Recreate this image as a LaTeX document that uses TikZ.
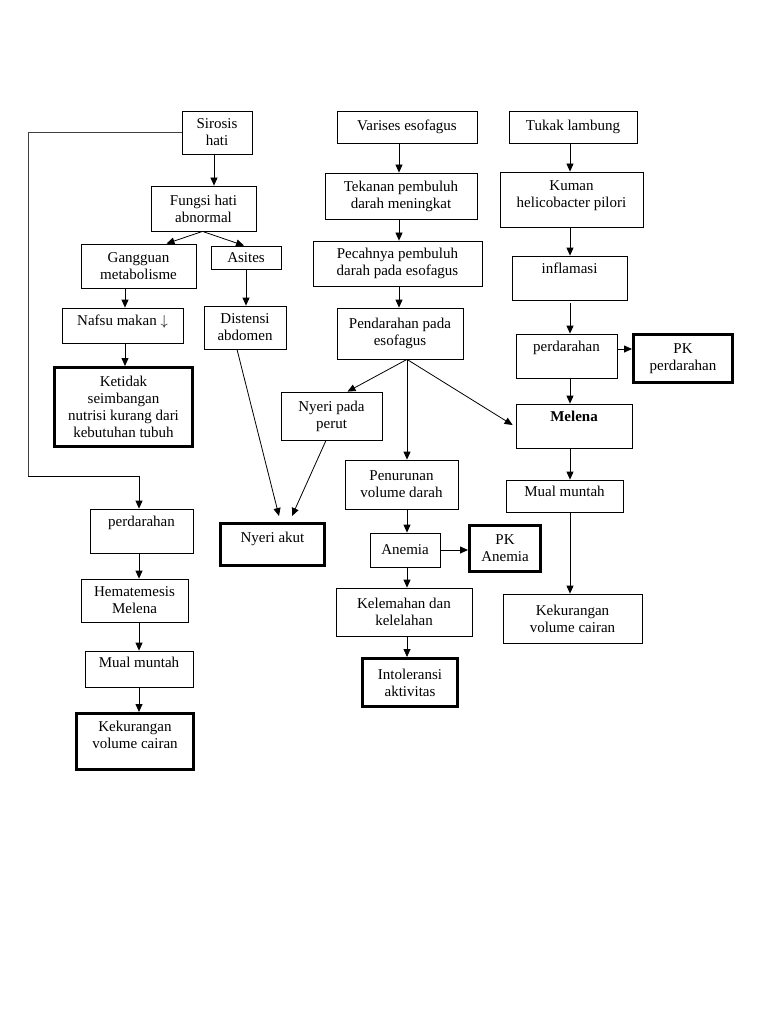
\documentclass[tikz,border=0pt]{standalone}
\usepackage{fontspec}
\setmainfont{Liberation Serif}
\usetikzlibrary{arrows.meta,calc}
\begin{document}
\begin{tikzpicture}[x=1pt,y=-1pt,
  font=\fontsize{15}{17}\selectfont,
  box/.style={draw, line width=0.8pt, align=center, inner sep=1pt},
  heavy/.style={box, line width=3pt},
  sz/.style 2 args={minimum width=#1pt, minimum height=#2pt},
  up/.style={text depth=#1pt},
  arr/.style={-{Triangle[length=8pt,width=7pt]}, line width=0.8pt},
  ln/.style={line width=0.8pt}]
\useasboundingbox (0,0) rectangle (768,1024);
\fill[white] (0,0) rectangle (768,1024);

% column coordinates
\coordinate (cS) at (214,0);
\coordinate (cA) at (125,0);
\coordinate (cL) at (139,0);
\coordinate (cM) at (399,0);
\coordinate (cN) at (407,0);
\coordinate (cR) at (570,0);
\coordinate (lp) at (28,476);
\coordinate (rp) at (0,349);

% left column
\node[box, sz={70}{43}] (sir) at (217,132.5) {Sirosis\\hati};
\node[box, sz={105}{45}] (fun) at (203.5,208.5) {Fungsi hati\\abnormal};
\node[box, sz={115}{44}] (gan) at (138.5,266) {Gangguan\\metabolisme};
\node[box, sz={70}{23}] (asi) at (246,257.5) {Asites};
\node[box, sz={121}{35}, up=11] (naf) at (122.5,325.5) {Nafsu makan $\downarrow$};
\node[box, sz={82}{43}] (dis) at (245,327.5) {Distensi\\abdomen};
\node[heavy, sz={138}{79}] (ket) at (123.5,407) {Ketidak\\seimbangan\\nutrisi kurang dari\\kebutuhan tubuh};
\node[box, sz={103}{44}, up=19] (per1) at (141.5,531) {perdarahan};
\node[box, sz={107}{43}] (hem) at (134.5,600.5) {Hematemesis\\Melena};
\node[box, sz={108}{36}, up=13] (mua1) at (139,669) {Mual muntah};
\node[heavy, sz={117}{56}, up=13] (kek1) at (135,741.5) {Kekurangan\\volume cairan};
\node[heavy, sz={104}{42}, up=15] (nye) at (272.5,544.5) {Nyeri akut};

% middle column
\node[box, sz={140}{32}] (var) at (407,127) {Varises esofagus};
\node[box, sz={152}{46}] (tek) at (401,196) {Tekanan pembuluh\\darah meningkat};
\node[box, sz={169}{45}] (pec) at (397.5,263.5) {Pecahnya pembuluh\\darah pada esofagus};
\node[box, sz={126}{51}] (pen) at (400,333.5) {Pendarahan pada\\esofagus};
\node[box, sz={101}{48}] (nyp) at (331.5,416) {Nyeri pada\\perut};
\node[box, sz={113}{49}] (pnr) at (401.5,484.5) {Penurunan\\volume darah};
\node[box, sz={70}{34}] (ane) at (405,550) {Anemia};
\node[heavy, sz={71}{46}] (pka) at (505,548.5) {PK\\Anemia};
\node[box, sz={136}{48}] (kel) at (404,612) {Kelemahan dan\\kelelahan};
\node[heavy, sz={95}{48}] (int) at (410,682.5) {Intoleransi\\aktivitas};

% right column
\node[box, sz={128}{32}] (tuk) at (573,127) {Tukak lambung};
\node[box, sz={143}{55}, up=11] (kum) at (571.5,199.5) {Kuman\\helicobacter pilori};
\node[box, sz={115}{44}, up=19] (inf) at (569.5,278) {inflamasi};
\node[box, sz={101}{44}, up=19] (per2) at (566.5,356) {perdarahan};
\node[heavy, sz={99}{48}] (pkp) at (683,358.5) {PK\\perdarahan};
\node[box, sz={116}{44}, up=19] (mel) at (574,426) {\textbf{Melena}};
\node[box, sz={117}{32}, up=9] (mua2) at (564.5,496) {Mual muntah};
\node[box, sz={139}{49}] (kek2) at (572.5,618.5) {Kekurangan\\volume cairan};

% connectors: left
\draw[arr] (sir.south -| cS) -- (fun.north -| cS);
\draw[ln, black!75] (sir.west) -| (lp);
\draw[arr] (lp) -| (per1.north -| cL);
\draw[arr] ($(fun.south)+(-1,0)$) -- ($(gan.north)+(28,0)$);
\draw[arr] ($(fun.south)+(-1,0)$) -- ($(asi.north)+(-2,0)$);
\draw[arr] (gan.south -| cA) -- (naf.north -| cA);
\draw[arr] (naf.south -| cA) -- (ket.north -| cA);
\draw[arr] (asi.south) -- (asi.south |- dis.north);
\draw[arr] ($(dis.south)+(-8,0)$) -- ($(nye.north)+(6.5,-6)$);
\draw[arr] ($(nyp.south)+(-5.5,0)$) -- ($(nye.north)+(19.5,-6)$);
\draw[arr] (per1.south -| cL) -- (hem.north -| cL);
\draw[arr] (hem.south -| cL) -- (mua1.north -| cL);
\draw[arr] (mua1.south -| cL) -- (kek1.north -| cL);

% connectors: middle
\draw[arr] (var.south -| cM) -- (tek.north -| cM);
\draw[arr] (tek.south -| cM) -- (pec.north -| cM);
\draw[arr] (pec.south -| cM) -- (pen.north -| cM);
\draw[arr] (pen.south -| cN) -- ($(nyp.north)+(16,0)$);
\draw[arr] (pen.south -| cN) -- (pnr.north -| cN);
\draw[arr] (pen.south -| cN) -- ($(mel.west)+(-3,-1)$);
\draw[arr] (pnr.south -| cN) -- (ane.north -| cN);
\draw[arr] (ane.south -| cN) -- (kel.north -| cN);
\draw[arr] (kel.south -| cN) -- (int.north -| cN);
\draw[arr] (ane.east) -- (ane.east -| pka.west);

% connectors: right
\draw[arr] (tuk.south -| cR) -- (kum.north -| cR);
\draw[arr] (kum.south -| cR) -- (inf.north -| cR);
\draw[arr] ($(inf.south -| cR)+(0,3)$) -- (per2.north -| cR);
\draw[arr] (per2.south -| cR) -- (mel.north -| cR);
\draw[arr] (per2.east |- rp) -- (pkp.west |- rp);
\draw[arr] (mel.south -| cR) -- (mua2.north -| cR);
\draw[arr] (mua2.south -| cR) -- (kek2.north -| cR);
\end{tikzpicture}
\end{document}
